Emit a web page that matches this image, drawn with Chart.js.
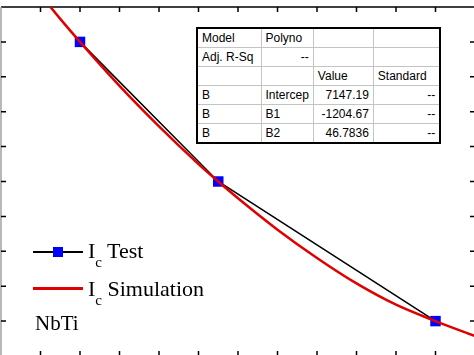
<!DOCTYPE html>
<html>
<head>
<meta charset="utf-8">
<script src="https://cdn.jsdelivr.net/npm/chart.js@4"></script>
<style>
  html, body { margin:0; padding:0; background:#fff; }
  body { width:474px; height:355px; overflow:hidden; position:relative; }
  #wrap { position:absolute; left:0; top:0; width:490px; height:370px; }
  .lg { position:absolute; font-family:"Liberation Serif","Times New Roman",serif; color:#000; white-space:nowrap; }
  .lg .sub { position:relative; top:9px; font-size:15px; }
  .sample { position:absolute; }
  table.fit { position:absolute; left:196px; top:27px; border-collapse:collapse; border:2px solid #000;
    font-family:"Liberation Sans",Arial,Helvetica,sans-serif; font-size:12px; color:#000; background:#fff; }
  table.fit td { border:1px solid #c4c4c4; height:18px; padding:0 4px; line-height:18px; }
  td.r { text-align:right; }
</style>
</head>
<body>
<div id="wrap"><canvas id="c" width="490" height="370"></canvas></div>

<table class="fit">
  <colgroup><col style="width:64px"><col style="width:52px"><col style="width:60px"><col style="width:67px"></colgroup>
  <tr><td>Model</td><td>Polyno</td><td></td><td></td></tr>
  <tr><td>Adj. R-Sq</td><td class="r">--</td><td></td><td></td></tr>
  <tr><td></td><td></td><td>Value</td><td>Standard</td></tr>
  <tr><td>B</td><td>Intercep</td><td class="r">7147.19</td><td class="r">--</td></tr>
  <tr><td>B</td><td>B1</td><td class="r">-1204.67</td><td class="r">--</td></tr>
  <tr><td>B</td><td>B2</td><td class="r">46.7836</td><td class="r">--</td></tr>
</table>

<div class="sample" style="left:33px; top:251px; width:50px; height:1.5px; background:#000;"></div>
<div class="sample" style="left:53px; top:247px; width:10px; height:10px; background:#0000ff;"></div>
<div class="lg" style="left:88px; top:240px; font-size:22px; line-height:22px;">I<span class="sub">c</span> Test</div>

<div class="sample" style="left:33px; top:287px; width:50px; height:2.5px; background:#e00000;"></div>
<div class="lg" style="left:88px; top:278px; font-size:22px; line-height:22px;">I<span class="sub">c</span> Simulation</div>

<div class="lg" style="left:35px; top:313px; font-size:21px; line-height:21px;">NbTi</div>

<script>
// Test points (Ic Test)
const testX = [2, 5.5, 11];
const testY = [9, 5, 1];
// Simulated curve (Ic Simulation)
const simX = [1.0, 1.5, 2, 3, 4, 5, 5.5, 6, 7, 8, 9, 10, 11, 12];
const simY = [10.35, 9.66, 9.0, 7.74, 6.58, 5.5, 5.0, 4.52, 3.62, 2.81, 2.08, 1.47, 1.0, 0.57];
// Axis ranges and tick step (tick labels are not visible in the picture)
const xRange = [0, 12];
const yRange = [0, 10];
const tickStep = 1;

function tickValues(scale, range) {
  if (scale.ticks && scale.ticks.length) return scale.ticks.map(t => t.value);
  const v = [];
  for (let t = range[0]; t <= range[1] + 1e-9; t += tickStep) v.push(t);
  return v;
}

const frameTicks = {
  id: 'frameTicks',
  beforeDatasetsDraw(chart) {
    const ctx = chart.ctx;
    const a = chart.chartArea;
    const xs = chart.scales.x, ys = chart.scales.y;
    ctx.save();
    ctx.lineWidth = 1.5;
    ctx.strokeStyle = '#000';
    ctx.beginPath();
    ctx.moveTo(a.left, a.top); ctx.lineTo(a.right, a.top);
    ctx.lineTo(a.right, a.bottom); ctx.lineTo(a.left, a.bottom);
    ctx.stroke();
    ctx.strokeStyle = '#a0a0a0';
    ctx.beginPath(); ctx.moveTo(a.left, a.top); ctx.lineTo(a.left, a.bottom); ctx.stroke();
    ctx.strokeStyle = '#000';
    const L = 5;
    ctx.beginPath();
    tickValues(xs, xRange).forEach(v => {
      if (v <= xRange[0] || v >= xRange[1]) return;
      const px = xs.getPixelForValue(v);
      ctx.moveTo(px, a.top); ctx.lineTo(px, a.top + L);
      ctx.moveTo(px, a.bottom); ctx.lineTo(px, a.bottom - L);
    });
    tickValues(ys, yRange).forEach(v => {
      if (v <= yRange[0] || v >= yRange[1]) return;
      const py = ys.getPixelForValue(v);
      ctx.moveTo(a.left, py); ctx.lineTo(a.left + L, py);
      ctx.moveTo(a.right, py); ctx.lineTo(a.right - L, py);
    });
    ctx.stroke();
    ctx.restore();
  }
};

new Chart(document.getElementById('c'), {
  type: 'line',
  data: {
    datasets: [
      {
        label: 'Ic Test',
        data: testX.map((x, i) => ({x, y: testY[i]})),
        borderColor: '#000',
        borderWidth: 1.5,
        pointStyle: 'rect',
        pointRadius: 7.4,
        pointBackgroundColor: '#0000ff',
        pointBorderColor: '#0000ff',
        pointBorderWidth: 0,
        tension: 0,
        order: 2
      },
      {
        label: 'Ic Simulation',
        data: simX.map((x, i) => ({x, y: simY[i]})),
        borderColor: '#e00000',
        borderWidth: 2.5,
        pointRadius: 0,
        cubicInterpolationMode: 'monotone',
        order: 1
      }
    ]
  },
  options: {
    responsive: false,
    animation: false,
    devicePixelRatio: 1,
    layout: { autoPadding: false, padding: { left: 1, top: 7, right: 15, bottom: 14 } },
    plugins: { legend: { display: false }, tooltip: { enabled: false } },
    scales: {
      x: { type: 'linear', display: false, min: xRange[0], max: xRange[1],
           ticks: { stepSize: tickStep } },
      y: { type: 'linear', display: false, min: yRange[0], max: yRange[1],
           ticks: { stepSize: tickStep } }
    }
  },
  plugins: [frameTicks]
});
</script>
</body>
</html>
